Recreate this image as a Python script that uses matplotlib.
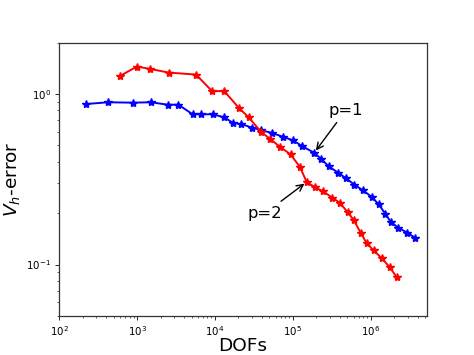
import matplotlib
matplotlib.use("Agg")
import matplotlib.pyplot as plt

p1_dofs = [220, 428, 881, 1500, 2480, 3380, 5170, 6670, 9350, 13150, 17170, 21750,
           30070, 39260, 54300, 74500, 101000, 131600, 187600, 228600, 286900,
           377700, 474000, 614000, 796000, 1030000, 1267000, 1525000, 1804000,
           2264000, 2918000, 3664000]
p1_err = [0.873, 0.894, 0.889, 0.894, 0.865, 0.865, 0.760, 0.760, 0.760, 0.729,
          0.675, 0.666, 0.634, 0.614, 0.590, 0.561, 0.534, 0.494, 0.452, 0.418,
          0.377, 0.346, 0.322, 0.294, 0.272, 0.249, 0.225, 0.199, 0.178, 0.164,
          0.154, 0.144]

p2_dofs = [605, 991, 1455, 2547, 5700, 9160, 13130, 20300, 27050, 38900, 50700,
           68100, 93500, 123000, 150000, 191500, 242600, 319300, 400600, 502600,
           605000, 737800, 881000, 1083000, 1384000, 1753000, 2154000]
p2_err = [1.276, 1.447, 1.403, 1.334, 1.299, 1.039, 1.039, 0.827, 0.729, 0.600,
          0.546, 0.490, 0.442, 0.373, 0.305, 0.284, 0.269, 0.247, 0.230, 0.203,
          0.182, 0.154, 0.134, 0.121, 0.109, 0.0963, 0.0842]

s = 0.74
plt.rcParams['font.family'] = ['DejaVu Sans']
fig, ax = plt.subplots(figsize=(4.74, 3.55), dpi=100)
fig.subplots_adjust(left=0.125, right=0.9, bottom=0.11, top=0.88)

ax.loglog(p1_dofs, p1_err, '-*', color='blue', lw=1.4, ms=6)
ax.loglog(p2_dofs, p2_err, '-*', color='red', lw=1.4, ms=6)

ax.set_xlim(1e2, 5.2e6)
ax.set_ylim(0.05, 2.0)
ax.set_xlabel('DOFs', fontsize=18 * s, labelpad=-1)
ax.set_ylabel('$V_h$-error', fontsize=18 * s, labelpad=3)
ax.tick_params(which='major', labelsize=10 * s, length=3.5 * s, width=0.8 * s)
ax.tick_params(which='minor', length=2 * s, width=0.6 * s)
for sp in ax.spines.values():
    sp.set_linewidth(0.9)
    sp.set_color('#333333')

ax.annotate('p=1', xy=(p1_dofs[18], p1_err[18]), xytext=(4.8e5, 0.805),
            fontsize=16 * s, ha='center', va='center',
            arrowprops=dict(arrowstyle='->', color='black', lw=1.0))
ax.annotate('p=2', xy=(p2_dofs[14], p2_err[14]), xytext=(4.4e4, 0.2),
            fontsize=16 * s, ha='center', va='center',
            arrowprops=dict(arrowstyle='->', color='black', lw=1.0))

fig.savefig('out.png', dpi=100)
